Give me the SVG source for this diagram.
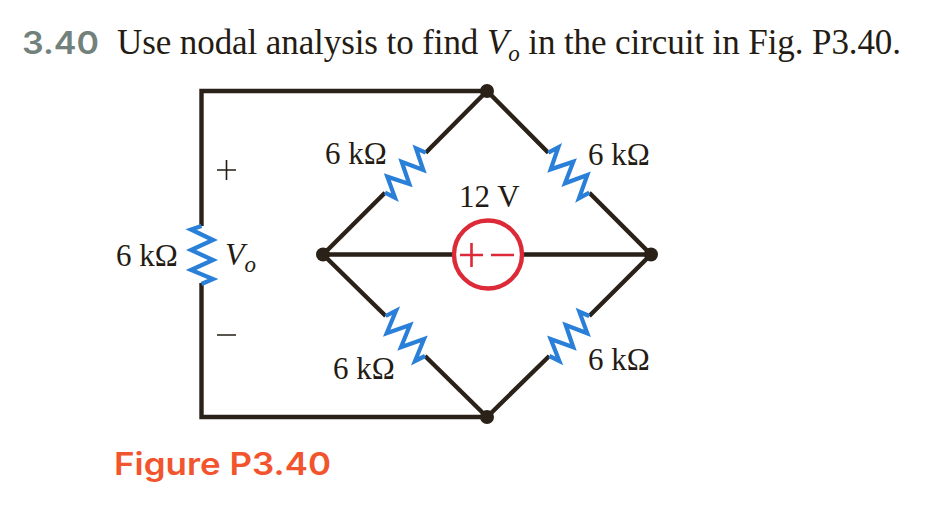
<svg xmlns="http://www.w3.org/2000/svg" width="946" height="508" viewBox="0 0 946 508">
<style>
.w{fill:none;stroke:#2a2118;stroke-width:4.4;stroke-linejoin:miter;stroke-linecap:butt}
.r{fill:none;stroke:#2a80d8;stroke-width:4.2;stroke-linejoin:miter;stroke-linecap:butt}
.d{fill:#2a2118}
.t{font-family:"Liberation Serif",serif;fill:#241c14}
.l{font-size:31px}
.h{font-family:"Inter","Liberation Sans",sans-serif;font-weight:600}
.m{fill:none;stroke:#241c14;stroke-width:1.6}
.s{fill:none;stroke:#dc2a38}
</style>
<rect width="946" height="508" fill="#fff"/>
<g id="title">
<text class="h" x="22" y="54" font-size="31" fill="#72817c" textLength="77" lengthAdjust="spacingAndGlyphs">3.40</text>
<text class="t" x="117" y="54" font-size="35" textLength="784" lengthAdjust="spacing">Use nodal analysis to find <tspan font-style="italic">V</tspan><tspan font-style="italic" font-size="23" dy="7">o</tspan><tspan dy="-7"> in the circuit in Fig. P3.40.</tspan></text>
</g>
<g id="connectors">
<path class="w" d="M201.5 226V91H487L548.3 152.7"/>
<path class="w" d="M201.5 283V417H487L549.3 356"/>
<path class="w" d="M323 254.5L385 192.7"/>
<path class="w" d="M425.7 152.7L487 91"/>
<path class="w" d="M589.3 192.7L651 254.5L589.3 316"/>
<path class="w" d="M323 254.5L385.7 316"/>
<path class="w" d="M425 356L487 417"/>
<path class="w" d="M323 254.5H454M522 254.5H651"/>
</g>
<g id="R-left">
<path class="r" d="M201.5 226L191 229.5L213 240L191 250L213 260L191 270L213 279L201.5 284"/>
<text class="t l" x="116" y="266">6 kΩ</text>
</g>
<g id="R-top-left">
<path class="r" d="M385 192.7L395 197.7L387.3 176.7L409.3 184L401.7 161.7L423.3 170L416 148.3L425.7 152.7"/>
<text class="t l" x="325" y="164">6 kΩ</text>
</g>
<g id="R-top-right">
<path class="r" d="M548.3 152.7L558.3 147.3L550.7 169.3L573.3 161.7L565 183.3L587.3 175L579 198.3L589.3 192.7"/>
<text class="t l" x="588" y="165">6 kΩ</text>
</g>
<g id="R-bottom-left">
<path class="r" d="M385.7 316L396 310.7L386.7 333.3L410 325L401 347.3L424 339L415 361L425 356"/>
<text class="t l" x="333" y="379">6 kΩ</text>
</g>
<g id="R-bottom-right">
<path class="r" d="M589.3 316L579.3 311.7L587.3 333.3L565.7 325L573.3 347.3L550.7 339L559.3 361L549.3 356"/>
<text class="t l" x="588" y="370">6 kΩ</text>
</g>
<g id="source">
<circle class="s" cx="488" cy="254.5" r="34" stroke-width="4.4"/>
<path class="s" stroke-width="2.6" d="M460 255H483M471.5 243V267M491 255H514"/>
<text class="t l" x="459" y="207">12 V</text>
</g>
<g id="Vo-label">
<path class="m" d="M217 170H236M226.500 160V180M217 335H236"/>
<text class="t" x="225" y="265" font-size="32" font-style="italic">V<tspan font-size="23" dy="7">o</tspan></text>
</g>
<g id="node-top"><circle class="d" cx="487" cy="91" r="7"/></g>
<g id="node-left"><circle class="d" cx="323" cy="254.500" r="7"/></g>
<g id="node-right"><circle class="d" cx="651" cy="254.500" r="7"/></g>
<g id="node-bottom"><circle class="d" cx="487" cy="417" r="7"/></g>
<g id="caption">
<text class="h" x="114" y="475" font-size="31" fill="#f2552e" textLength="217" lengthAdjust="spacingAndGlyphs">Figure P3.40</text>
</g>
</svg>
